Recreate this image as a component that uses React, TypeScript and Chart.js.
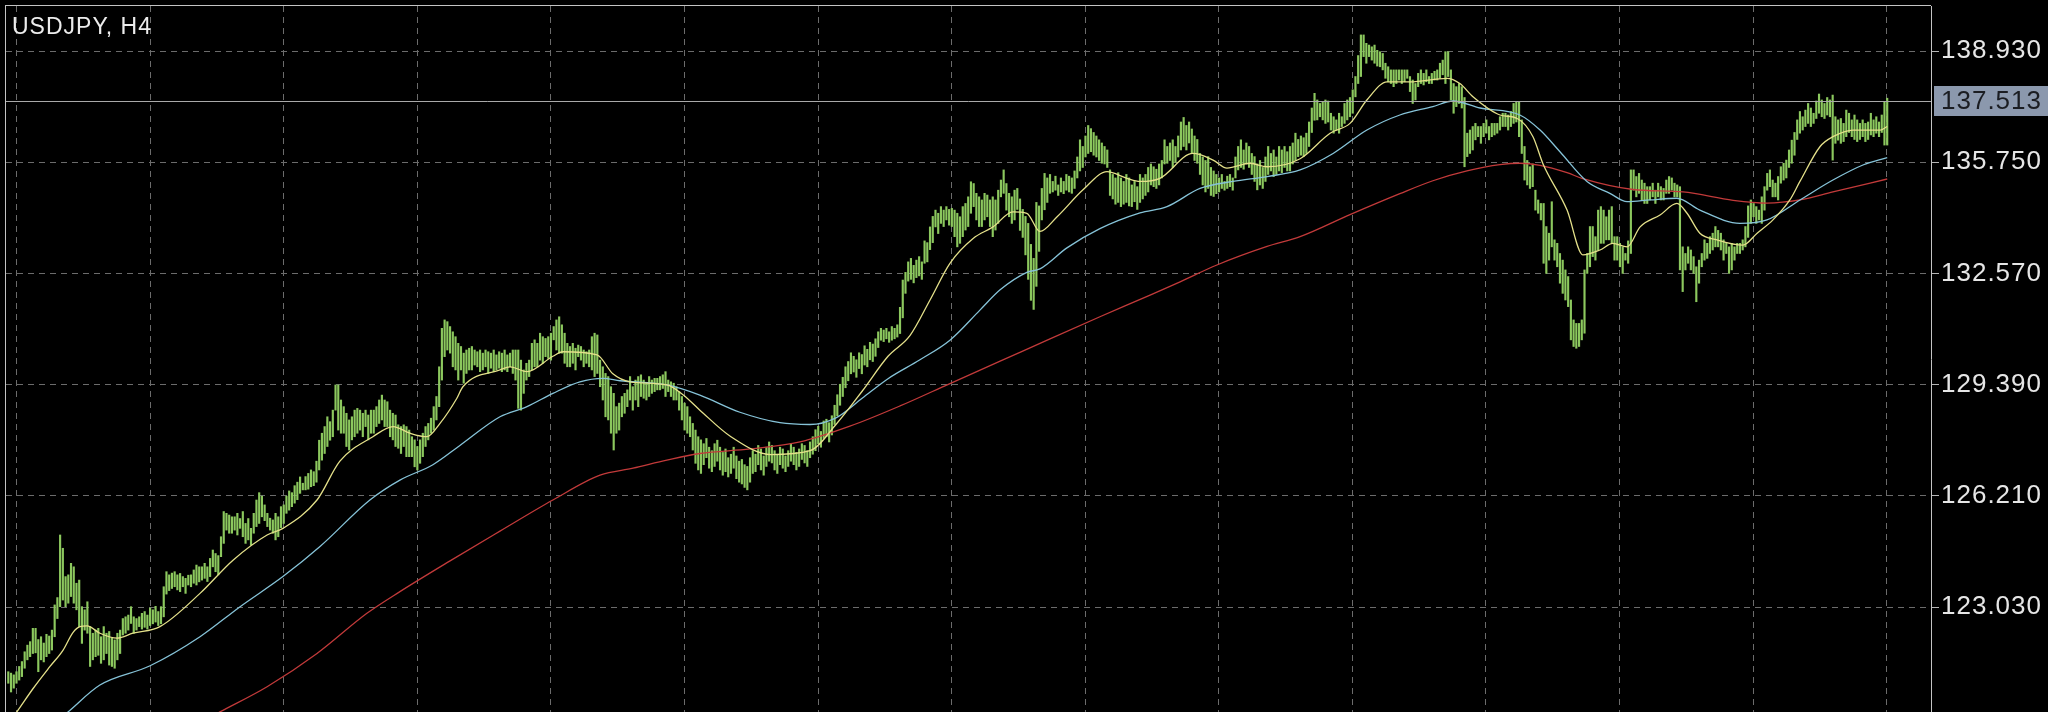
import React, { useEffect, useRef } from 'react';
import { Chart, registerables } from 'chart.js';

Chart.register(...registerables);

// ---------------- DATA ----------------
const symbolTitle = 'USDJPY, H4';
const priceTicks = [123.03, 126.21, 129.39, 132.57, 135.75, 138.93];
const currentPrice = 137.513;

// H4 bar highs (one per bar, oldest first)
const barHigh = [
  121.18,121.14,121.09,121.18,121.33,121.47,121.75,121.94,122.04,122.42,
  122.42,122.10,122.18,122.00,122.25,122.20,122.37,123.09,123.30,125.09,
  124.71,123.90,123.95,124.28,124.18,123.71,123.80,123.04,122.95,123.18,
  122.47,122.28,122.37,122.42,122.18,122.47,122.28,122.33,122.14,122.09,
  122.28,122.37,122.70,122.75,122.80,123.04,122.75,122.70,122.75,122.85,
  122.90,122.80,123.00,122.95,123.05,122.90,123.04,123.61,124.04,123.95,
  124.00,124.04,123.95,123.99,123.90,123.85,123.94,123.95,124.09,124.23,
  124.18,124.18,124.28,124.18,124.42,124.66,124.56,124.50,125.04,125.76,
  125.71,125.66,125.61,125.61,125.71,125.56,125.76,125.42,125.56,125.28,
  125.71,126.09,126.30,126.20,125.95,125.71,125.57,125.52,125.71,125.61,
  125.90,125.95,126.20,126.35,126.30,126.50,126.60,126.75,126.57,126.76,
  126.85,126.95,126.90,127.20,127.80,128.00,128.19,128.47,128.33,128.66,
  129.38,129.38,128.95,128.76,128.57,128.38,128.47,128.66,128.71,128.66,
  128.57,128.66,128.52,128.66,128.66,128.76,128.95,129.09,128.95,128.90,
  128.66,128.57,128.52,128.24,128.19,128.24,128.19,128.09,127.90,127.81,
  127.62,127.81,128.00,128.19,128.28,128.43,128.76,129.05,129.90,131.00,
  131.24,131.19,131.05,130.90,130.76,130.57,130.48,130.29,130.38,130.43,
  130.48,130.38,130.33,130.38,130.29,130.38,130.33,130.29,130.38,130.24,
  130.33,130.29,130.38,130.24,130.29,130.38,130.38,130.38,130.09,129.81,
  130.00,130.09,130.57,130.67,130.57,130.86,130.76,130.71,130.76,130.86,
  131.05,131.24,131.33,131.10,130.86,130.57,130.48,130.57,130.43,130.52,
  130.48,130.38,130.33,130.38,130.76,130.86,130.81,130.09,129.90,129.71,
  129.62,129.33,129.14,128.76,128.86,129.05,129.14,129.24,129.62,129.33,
  129.52,129.62,129.67,129.52,129.43,129.62,129.52,129.57,129.57,129.62,
  129.67,129.76,129.52,129.47,129.43,129.33,129.19,129.05,128.86,128.76,
  128.47,128.28,128.09,127.90,127.81,127.70,127.85,127.60,127.50,127.70,
  127.80,127.60,127.45,127.55,127.30,127.40,127.60,127.35,127.20,127.25,
  127.10,127.05,127.30,127.50,127.40,127.65,127.55,127.35,127.60,127.75,
  127.65,127.50,127.40,127.60,127.55,127.35,127.50,127.70,127.60,127.45,
  127.55,127.70,127.65,127.50,127.75,127.90,128.10,128.20,128.05,128.35,
  128.40,128.30,128.50,128.80,129.10,129.40,129.60,129.90,130.05,130.30,
  130.20,130.10,130.30,130.25,130.50,130.40,130.60,130.55,130.70,130.90,
  131.00,130.95,131.00,130.90,131.05,131.00,131.10,131.60,132.38,132.60,
  132.90,133.00,132.80,132.95,133.05,132.90,133.50,133.45,133.90,134.20,
  134.38,134.29,134.48,134.38,134.48,134.40,134.43,134.38,134.29,134.19,
  134.48,134.57,134.76,135.19,135.14,134.86,134.76,134.67,134.86,134.81,
  134.67,134.76,134.67,134.95,135.24,135.53,135.14,134.86,134.76,134.95,
  135.00,134.70,134.40,134.20,134.00,133.40,133.00,134.60,134.50,135.00,
  135.43,135.30,135.40,135.20,135.35,135.10,135.30,135.20,135.40,135.35,
  135.30,135.50,135.90,136.39,136.20,136.50,136.80,136.71,136.60,136.50,
  136.39,136.30,136.20,136.10,135.53,135.40,135.30,135.45,135.30,135.20,
  135.40,135.30,135.10,135.20,135.05,135.40,135.30,135.40,135.60,135.70,
  135.62,135.55,135.70,135.80,136.39,136.20,136.30,136.39,136.20,136.50,
  136.90,137.03,136.80,136.90,136.70,136.50,136.40,136.00,135.90,135.80,
  135.91,135.60,135.50,135.40,135.30,135.40,135.20,135.35,135.40,135.30,
  135.90,136.20,136.39,136.10,136.30,136.20,136.00,135.91,135.70,135.80,
  135.60,135.90,136.20,136.00,136.10,135.90,136.20,136.10,136.20,136.05,
  136.20,136.30,136.58,136.40,136.50,136.45,136.58,136.90,137.30,137.72,
  137.53,137.43,137.48,137.53,137.50,137.15,137.05,136.96,137.15,137.05,
  137.43,137.53,137.60,137.82,138.20,138.80,139.39,139.39,139.15,139.10,
  139.05,139.10,138.95,138.91,138.86,138.58,138.48,138.39,138.39,138.39,
  138.39,138.39,138.39,138.39,138.20,138.10,138.00,138.29,138.39,138.29,
  138.39,138.20,138.29,138.35,138.39,138.58,138.67,138.91,138.91,138.39,
  138.00,137.91,138.00,137.91,137.60,136.58,136.67,136.77,136.86,136.77,
  136.77,136.86,136.96,136.77,136.86,136.86,136.86,137.05,137.15,137.15,
  137.10,137.20,137.43,137.48,137.48,136.96,136.20,135.80,135.62,135.70,
  134.95,134.67,134.57,134.57,133.91,133.72,134.62,133.53,133.43,133.14,
  132.95,132.67,132.48,131.81,131.24,131.14,131.14,131.24,132.67,133.14,
  133.91,133.91,133.62,134.38,134.48,134.38,134.19,134.38,134.48,133.62,
  133.62,133.43,133.33,133.14,133.50,135.53,135.53,135.34,135.43,135.24,
  135.15,135.05,135.05,135.15,134.95,135.15,135.05,135.00,135.24,135.34,
  135.30,135.15,135.10,135.05,133.33,133.14,133.33,133.24,133.05,132.76,
  132.95,133.14,133.53,133.43,133.62,133.72,133.91,133.80,133.72,133.53,
  133.43,133.33,133.43,133.33,133.43,133.43,133.53,133.91,134.50,134.67,
  134.57,134.48,134.38,134.76,135.05,135.43,135.53,135.24,135.15,135.34,
  135.62,135.72,135.81,136.10,136.38,136.60,136.96,137.20,137.05,137.24,
  137.43,137.30,137.15,137.50,137.70,137.53,137.43,137.60,137.53,137.67,
  137.05,136.96,137.00,136.86,137.24,137.15,136.96,137.10,136.96,136.86,
  136.96,136.86,136.90,137.15,136.96,137.05,136.90,137.10,137.48,137.58,
];

// H4 bar lows (one per bar, oldest first)
const barLow = [
  120.85,120.60,120.71,120.85,120.94,121.04,121.28,121.52,121.61,121.70,
  121.72,121.18,121.52,121.46,121.61,121.70,121.80,122.18,122.70,123.04,
  123.23,123.04,123.14,123.33,123.14,122.95,122.47,121.99,122.37,122.28,
  121.33,121.52,121.61,121.65,121.42,121.52,121.70,121.37,121.33,121.28,
  121.52,121.70,122.23,122.28,122.37,122.56,122.28,122.37,122.47,122.40,
  122.45,122.40,122.50,122.55,122.60,122.50,122.55,122.75,123.40,123.50,
  123.56,123.61,123.52,123.47,123.61,123.42,123.66,123.61,123.71,123.66,
  123.75,123.80,123.85,123.76,123.90,124.18,124.04,123.95,124.47,124.85,
  125.23,125.14,125.14,125.23,125.09,125.28,125.04,124.85,124.95,124.80,
  125.14,125.33,125.42,125.61,125.50,125.33,125.23,125.14,124.95,125.04,
  125.30,125.42,125.71,125.80,125.90,126.00,126.10,126.28,126.38,126.38,
  126.40,126.47,126.50,126.60,126.95,127.23,127.42,127.62,127.80,127.90,
  128.66,128.09,128.00,128.00,127.62,127.52,127.81,127.90,128.00,128.09,
  127.90,128.19,127.81,128.00,128.00,128.19,128.28,128.38,128.19,128.19,
  127.90,127.81,127.62,127.57,127.42,127.62,127.33,127.33,127.33,127.04,
  126.95,127.14,127.33,127.62,127.81,128.00,128.09,128.38,128.76,129.52,
  130.19,130.38,130.29,129.90,129.81,129.52,129.81,129.43,129.71,129.81,
  129.81,129.95,129.90,129.76,129.81,129.90,129.71,129.86,129.76,129.81,
  129.86,129.76,129.81,129.76,129.90,129.71,129.52,128.71,128.66,129.14,
  129.52,129.62,129.81,129.90,129.90,130.09,130.00,130.19,130.14,130.09,
  130.67,130.38,130.29,130.29,130.00,129.90,129.90,130.00,129.81,130.19,
  130.09,129.90,130.00,129.90,129.81,129.62,129.71,129.33,128.95,128.47,
  128.38,128.00,127.52,128.00,128.09,128.47,128.57,128.76,128.95,128.66,
  128.95,128.76,129.05,129.00,128.95,129.05,129.14,129.19,129.24,129.24,
  129.28,129.05,129.19,129.05,128.95,128.95,128.66,128.38,128.09,128.00,
  127.90,127.52,127.14,126.95,126.85,127.10,127.30,127.00,126.90,127.05,
  127.20,126.95,126.80,126.90,126.75,126.85,127.00,126.70,126.60,126.55,
  126.45,126.38,126.60,126.85,126.90,127.10,126.95,126.80,127.05,127.20,
  127.15,126.95,126.85,127.10,127.00,126.90,127.05,127.20,127.10,126.95,
  127.05,127.25,127.15,127.05,127.30,127.40,127.50,127.70,127.60,127.85,
  127.90,127.75,127.95,128.25,128.50,128.80,129.05,129.30,129.50,129.70,
  129.75,129.60,129.85,129.70,129.95,129.90,130.10,130.05,130.20,130.45,
  130.66,130.62,130.70,130.60,130.66,130.70,130.75,130.85,131.30,132.00,
  132.35,132.40,132.30,132.45,132.50,132.40,132.86,132.90,133.25,133.45,
  133.90,133.71,134.00,133.91,134.10,133.95,133.91,133.62,133.33,133.43,
  133.62,133.81,133.91,134.29,134.48,134.10,133.91,133.91,134.10,134.19,
  133.91,133.62,133.81,134.00,134.76,134.86,134.38,134.19,134.00,134.10,
  134.40,133.80,133.60,133.10,132.40,131.80,131.54,132.20,133.20,134.10,
  134.39,134.60,134.86,134.90,134.95,134.80,134.90,134.85,134.95,134.90,
  134.86,135.00,135.30,135.50,135.60,135.90,136.00,136.05,135.95,135.90,
  135.80,135.72,135.70,135.60,134.80,134.70,134.55,134.60,134.48,134.55,
  134.60,134.50,134.48,134.62,134.40,134.60,134.70,134.80,134.90,135.10,
  135.05,135.00,135.10,135.30,135.70,135.72,135.80,135.60,135.75,135.90,
  136.10,136.20,136.10,136.30,136.00,135.80,135.72,135.40,135.10,134.90,
  135.00,134.80,134.77,134.85,134.90,135.00,134.95,135.00,135.05,134.95,
  135.30,135.53,135.60,135.55,135.70,135.60,135.40,135.20,134.96,135.10,
  135.00,135.20,135.40,135.50,135.34,135.40,135.50,135.45,135.60,135.50,
  135.50,135.70,135.80,135.91,135.95,135.91,136.00,136.20,136.60,136.95,
  136.96,137.05,136.96,136.86,136.90,136.67,136.58,136.67,136.58,136.77,
  136.86,136.96,137.05,137.15,137.62,138.00,138.20,138.77,138.58,138.77,
  138.67,138.58,138.50,138.48,138.39,138.15,138.05,138.00,137.91,138.00,
  138.10,138.00,138.05,138.15,137.77,137.43,137.53,137.91,138.00,137.96,
  138.05,138.00,138.00,138.10,138.10,138.15,138.25,138.00,138.20,137.53,
  137.15,137.34,137.43,137.30,135.62,135.91,136.00,136.10,136.39,136.48,
  136.29,136.48,136.58,136.39,136.48,136.53,136.58,136.67,136.77,136.77,
  136.67,136.77,136.86,136.90,136.48,136.00,135.24,135.10,135.00,135.05,
  134.38,134.29,134.10,132.86,132.57,132.95,133.33,132.95,132.76,132.29,
  132.00,131.81,131.62,130.67,130.48,130.43,130.48,130.67,130.86,132.57,
  132.76,133.05,132.95,133.24,133.43,133.43,133.53,133.53,133.43,132.95,
  132.95,132.76,132.57,132.95,132.86,133.14,134.95,134.76,134.86,134.67,
  134.57,134.57,134.67,134.76,134.57,134.76,134.67,134.67,134.86,134.86,
  134.95,134.76,134.76,132.67,132.05,132.67,132.86,132.67,132.57,131.76,
  132.29,132.76,132.95,133.00,133.14,133.24,133.33,133.33,133.24,132.95,
  133.14,132.57,132.67,132.95,133.14,133.14,133.24,133.33,133.60,134.00,
  134.19,134.00,134.10,134.00,134.38,134.95,135.05,134.76,134.76,134.67,
  135.15,135.24,135.30,135.60,135.72,135.95,136.40,136.58,136.67,136.77,
  136.86,136.77,136.86,137.00,137.15,137.05,137.00,137.10,137.05,135.81,
  136.29,136.38,136.29,136.34,136.48,136.60,136.48,136.40,136.34,136.40,
  136.48,136.34,136.40,136.53,136.48,136.58,136.48,136.60,136.24,136.24,
];

// Moving averages: [bar index, price]
const maFast = [
  [0,119.7],[3.2,120.04],[9.1,120.7],[15.3,121.33],[20.1,121.8],[23.7,122.3],[26.3,122.47],[28.9,122.49],
  [33.6,122.28],[39.9,122.14],[45.7,122.28],[55.6,122.47],[70.3,123.42],[82.4,124.37],[94.9,125.09],
  [100.7,125.28],[113.2,126.09],[121.6,127.2],[133.7,127.9],[141.1,128.19],[147.3,128.0],[153.5,127.9],
  [158.3,128.28],[164.5,129.0],[166.7,129.33],[180.3,129.81],[184,129.9],[190.2,129.76],[199.7,130.2],
  [203.4,130.33],[215.9,130.24],[221.7,129.7],[228,129.47],[241.5,129.38],[247.4,129.1],[253.6,128.66],
  [265,127.9],[279.7,127.39],[294,127.5],[303.5,128.25],[313.1,129.2],[322.6,130.2],[330.7,130.8],
  [338,131.81],[345.3,132.86],[353.8,133.57],[361.1,133.9],[368.4,134.33],[373.5,134.29],[378.3,133.77],
  [384.6,134.19],[394.1,134.96],[402.9,135.48],[410.2,135.29],[415,135.2],[422.3,135.29],[434.4,136.0],
  [441.8,135.81],[446.9,135.58],[455.3,135.72],[461.6,135.62],[473.7,135.85],[484.7,136.58],[492,136.86],
  [498.2,137.53],[505.6,138.05],[514,138.05],[527.6,138.15],[532.3,138.0],[537.1,137.62],[547,137.1],
  [553.3,137.0],[559.1,136.48],[562.8,135.7],[571.6,134.38],[577.4,133.1],[583.7,133.24],[588.4,133.43],
  [593.6,133.33],[598.4,133.9],[605.7,134.24],[611.9,134.57],[615.6,134.29],[620.3,133.72],[626.6,133.53],
  [636.1,133.38],[641.3,133.72],[647.1,134.1],[653.3,134.67],[657,135.2],[664.4,136.2],[669.1,136.48],
  [676.5,136.67],[686.4,136.67],[689,136.77],
];

const maMid = [
  [12,119.4],[21.9,120.03],[33.6,120.8],[52,121.35],[70.3,122.18],[85,123.04],[100.7,123.9],[114.3,124.76],
  [132.6,126.09],[143.6,126.66],[155.7,127.1],[165.6,127.65],[180.3,128.47],[190.2,128.76],[199.7,129.14],
  [209.6,129.47],[218.1,129.57],[224.3,129.5],[241.5,129.38],[253.6,129.09],[268.3,128.6],[283,128.3],
  [294,128.25],[303.5,128.44],[313.1,129.0],[322.6,129.56],[334.3,130.1],[345.3,130.66],[356.3,131.52],
  [363.7,132.1],[373.5,132.6],[378.3,132.7],[388.2,133.3],[400.3,133.85],[415,134.3],[424.9,134.48],
  [437,135.0],[449.1,135.2],[461.6,135.34],[473.7,135.53],[485.8,136.0],[498.2,136.67],[510.3,137.1],
  [522.4,137.34],[529.8,137.5],[539.7,137.3],[554.3,137.1],[561.7,136.67],[569,136.05],[578.9,135.2],
  [587.3,134.86],[593.6,134.62],[602,134.67],[611.9,134.72],[620.3,134.38],[635,134.0],[644.9,134.1],
  [657,134.67],[669.1,135.24],[680.1,135.67],[689,135.88],
];

const maSlow = [
  [70,119.71],[77.6,120.03],[94.9,120.75],[113.2,121.7],[131.5,122.85],[143.6,123.47],[162,124.35],
  [180.3,125.2],[199.7,126.09],[217,126.8],[229.1,127.0],[241.5,127.23],[253.6,127.42],[272,127.55],
  [290.3,127.75],[308.6,128.2],[327,128.78],[345.3,129.42],[363.7,130.06],[382,130.7],[400.3,131.33],
  [418.7,131.95],[429.7,132.33],[443.2,132.81],[461.6,133.34],[473.7,133.62],[492,134.25],[510.3,134.85],
  [522.4,135.22],[534.9,135.5],[547,135.68],[554.3,135.72],[561.7,135.66],[571.6,135.45],[577.4,135.28],
  [595.8,134.97],[614.1,134.9],[632.5,134.66],[644.9,134.58],[657,134.67],[669.1,134.9],[689,135.27],
];

// ---------------- LAYOUT / STYLE ----------------
const W = 2048;
const H = 712;
const yMin = 120.028;
const yMax = 140.217;
const xMin = -0.843;
const xMax = 705.06;
const vGridFirst = 3.08;
const vGridStep = 48.98;
const vGridCount = 15;

const FONT = '"Liberation Sans", Arial, Helvetica, sans-serif';
const gridColor = '#6c6c6c';
const frameColor = '#c4c4c4';

const overlayPlugin = {
  id: 'mtOverlay',
  beforeDraw(chart: any) {
    const ctx = chart.ctx as any;
    ctx.letterSpacing = '1px';
  },
  afterDatasetsDraw(chart: any) {
    const { ctx, chartArea, scales } = chart;
    const py = Math.round(scales.y.getPixelForValue(currentPrice)) + 0.5;
    ctx.save();
    ctx.strokeStyle = '#a9a9a9';
    ctx.lineWidth = 1;
    ctx.setLineDash([]);
    ctx.beginPath();
    ctx.moveTo(chartArea.left, py);
    ctx.lineTo(chartArea.right, py);
    ctx.stroke();
    ctx.restore();
  },
  afterDraw(chart: any) {
    const { ctx, chartArea, scales } = chart;
    ctx.save();
    // frame: left and top
    ctx.fillStyle = frameColor;
    ctx.fillRect(chartArea.left - 1, chartArea.top - 1, 1, chartArea.bottom - chartArea.top + 1);
    ctx.fillRect(chartArea.left - 1, chartArea.top - 1, chartArea.right - chartArea.left + 1, 1);
    // title
    ctx.fillStyle = '#ececec';
    ctx.font = `23px ${FONT}`;
    ctx.textBaseline = 'alphabetic';
    ctx.textAlign = 'left';
    ctx.fillText(symbolTitle, 12, 34);
    // current price label
    const py = scales.y.getPixelForValue(currentPrice);
    ctx.fillStyle = '#8b98ad';
    ctx.fillRect(chartArea.right + 3, Math.round(py) - 15, W - chartArea.right - 3, 30);
    ctx.fillStyle = '#1b1d22';
    ctx.font = `26px ${FONT}`;
    ctx.textBaseline = 'middle';
    ctx.fillText(currentPrice.toFixed(3), chartArea.right + 10, py + 1);
    ctx.restore();
  },
};

export default function App() {
  const canvasRef = useRef<HTMLCanvasElement | null>(null);

  useEffect(() => {
    const canvas = canvasRef.current;
    if (!canvas) return;

    const bars = barHigh.map((h, i) => ({ x: i, y: [barLow[i], h] }));
    const toXY = (arr: number[][]) => arr.map(([x, y]) => ({ x, y }));

    const chart = new Chart(canvas, {
      type: 'bar',
      data: {
        datasets: [
          {
            type: 'line',
            data: toXY(maFast),
            borderColor: '#e4e08a',
            borderWidth: 1.3,
            pointRadius: 0,
            cubicInterpolationMode: 'monotone',
            order: 1,
          } as any,
          {
            type: 'line',
            data: toXY(maMid),
            borderColor: '#86c3d8',
            borderWidth: 1.3,
            pointRadius: 0,
            cubicInterpolationMode: 'monotone',
            order: 2,
          } as any,
          {
            type: 'line',
            data: toXY(maSlow),
            borderColor: '#c23a3a',
            borderWidth: 1.3,
            pointRadius: 0,
            cubicInterpolationMode: 'monotone',
            order: 3,
          } as any,
          {
            type: 'bar',
            data: bars as any,
            backgroundColor: '#8cc85e',
            borderWidth: 0,
            barThickness: 1.5,
            grouped: false,
            order: 10,
          } as any,
        ],
      },
      options: {
        responsive: false,
        animation: false,
        events: [],
        layout: { padding: { left: 6, top: 6, right: 0, bottom: 0 } },
        plugins: {
          legend: { display: false },
          tooltip: { enabled: false },
          title: { display: false },
        },
        scales: {
          x: {
            type: 'linear',
            min: xMin,
            max: xMax,
            offset: false,
            position: 'bottom',
            ticks: { display: false },
            grid: { offset: false, color: gridColor, lineWidth: 1, drawTicks: false, tickLength: 0 },
            border: { display: false, dash: [6, 5] },
            afterBuildTicks: (s: any) => {
              const t: any[] = [];
              for (let k = 0; k < vGridCount; k++) t.push({ value: vGridFirst + k * vGridStep });
              s.ticks = t;
            },
            afterFit: (s: any) => {
              s.height = 0;
              s.paddingLeft = 0;
              s.paddingRight = 0;
            },
          },
          y: {
            type: 'linear',
            position: 'right',
            min: yMin,
            max: yMax,
            ticks: {
              color: '#e6e6e6',
              font: { family: FONT, size: 26 },
              padding: 2,
              autoSkip: false,
              callback: (v: any) => Number(v).toFixed(3),
            },
            grid: { color: gridColor, lineWidth: 1, drawTicks: true, tickLength: 8, tickColor: '#b4b4b4', tickWidth: 1 },
            border: { display: true, color: frameColor, width: 1, dash: [6, 5] },
            afterBuildTicks: (s: any) => {
              s.ticks = priceTicks.map((v) => ({ value: v }));
            },
            afterFit: (s: any) => {
              s.width = 117;
              s.paddingTop = 0;
              s.paddingBottom = 0;
            },
          },
        },
      } as any,
      plugins: [overlayPlugin],
    });

    return () => chart.destroy();
  }, []);

  return (
    <div style={{ position: 'fixed', left: 0, top: 0, width: W, height: H, background: '#000', overflow: 'hidden' }}>
      <canvas ref={canvasRef} width={W} height={H} style={{ display: 'block', width: W, height: H }} />
    </div>
  );
}
